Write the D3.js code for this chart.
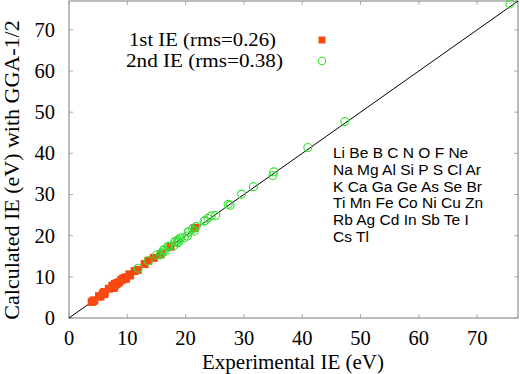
<!DOCTYPE html>
<html><head><meta charset="utf-8">
<script src="https://cdn.jsdelivr.net/npm/d3@7"></script>
<style>body{margin:0;background:#fff}svg{display:block}</style>
</head><body>
<script>
const elements = ["Li","Be","B","C","N","O","F","Ne","Na","Mg","Al","Si","P","S","Cl","Ar","K","Ca","Ga","Ge","As","Se","Br","Ti","Mn","Fe","Co","Ni","Cu","Zn","Rb","Ag","Cd","In","Sb","Te","I","Cs","Tl"];
const ie1Exp  = [5.39,9.32,8.30,11.26,14.53,13.62,17.42,21.56,5.14,7.65,5.99,8.15,10.49,10.36,12.97,15.76,4.34,6.11,6.00,7.90,9.79,9.75,11.81,6.83,7.43,7.90,7.88,7.64,7.73,9.39,4.18,7.58,8.99,5.79,8.61,9.01,10.45,3.89,6.11];
const ie1Calc = [5.2,9.6,8.5,11.4,14.6,13.9,17.3,21.9,5.3,7.5,5.8,8.2,10.5,10.6,13.1,15.5,4.3,6.0,6.2,8.1,9.9,9.5,11.7,7.1,7.8,8.3,8.2,7.9,7.4,9.6,4.1,7.3,9.2,5.9,8.7,9.3,10.3,3.9,6.3];
const ie2Exp  = [75.64,18.21,25.15,24.38,29.60,35.12,34.97,40.96,47.29,15.04,18.83,16.35,19.77,23.34,23.81,27.63,31.63,11.87,20.51,15.93,18.59,21.19,21.8,13.58,15.64,16.19,17.08,18.17,20.29,17.96,27.29,21.48,16.91,18.87,16.53,18.6,19.13,23.16,20.43];
const ie2Calc = [76.3,18.6,24.9,24.8,30.1,35.5,34.6,41.4,47.7,15.3,18.5,16.6,19.5,23.7,24.2,27.4,31.9,12.1,20.9,15.8,18.3,21.6,22.2,13.9,15.3,16.5,17.4,18.6,19.9,17.6,27.6,21.1,17.3,19.2,16.2,18.9,19.5,23.5,20.9];
const tickValues = [0,10,20,30,40,50,60,70];
const legendLabels = ["1st IE (rms=0.26)","2nd IE (rms=0.38)"];
const elementLines = ["Li Be B C N O F Ne","Na Mg Al Si P S Cl Ar","K Ca Ga Ge As Se Br","Ti Mn Fe Co Ni Cu Zn","Rb Ag Cd In Sb Te I","Cs Tl"];
const xLabel = "Experimental IE (eV)";
const yLabel = "Calculated IE (eV) with GGA-1/2";

const W=520,H=374;
const L=69,R=518,T=1,B=318;
const red="#f84a10", green="#33e033";
const serif="'Liberation Serif','Times New Roman',serif";
const sans="'Liberation Sans',Arial,sans-serif";

const svg=d3.select("body").append("svg").attr("width",W).attr("height",H);
const x=d3.scaleLinear().domain([0,77]).range([L,R]);
const y=d3.scaleLinear().domain([0,77]).range([B,T]);

// ticks (mirrored, inward)
const tk=svg.append("g").attr("stroke","#aaa").attr("stroke-width",1);
tickValues.forEach(v=>{
  tk.append("line").attr("x1",x(v)).attr("x2",x(v)).attr("y1",B).attr("y2",B-4);
  tk.append("line").attr("x1",x(v)).attr("x2",x(v)).attr("y1",T).attr("y2",T+4);
  tk.append("line").attr("y1",y(v)).attr("y2",y(v)).attr("x1",L).attr("x2",L+4);
  tk.append("line").attr("y1",y(v)).attr("y2",y(v)).attr("x1",R).attr("x2",R-4);
});
svg.append("rect").attr("x",L).attr("y",T).attr("width",R-L).attr("height",B-T)
  .attr("fill","none").attr("stroke","#999").attr("stroke-width",1.3);

// tick labels
svg.append("g").selectAll("text").data(tickValues).join("text")
  .attr("x",d=>x(d)).attr("y",345).attr("text-anchor","middle")
  .attr("font-family",serif).attr("font-size",20.5).text(d=>d);
svg.append("g").selectAll("text").data(tickValues).join("text")
  .attr("x",55).attr("y",d=>y(d)+7).attr("text-anchor","end")
  .attr("font-family",serif).attr("font-size",20.5).text(d=>d);

// axis labels
svg.append("text").attr("x",293).attr("y",369).attr("text-anchor","middle")
  .attr("font-family",serif).attr("font-size",21).text(xLabel);
svg.append("text").attr("transform","translate(19,170) rotate(-90)").attr("text-anchor","middle")
  .attr("font-family",serif).attr("font-size",22).text(yLabel);

// diagonal
svg.append("line").attr("x1",x(0)).attr("y1",y(0)).attr("x2",x(77)).attr("y2",y(77))
  .attr("stroke","#000").attr("stroke-width",1);

// series
const d1=ie1Exp.map((v,i)=>[v,ie1Calc[i]]);
const d2=ie2Exp.map((v,i)=>[v,ie2Calc[i]]);
svg.append("g").selectAll("rect").data(d1).join("rect")
  .attr("x",d=>x(d[0])-4).attr("y",d=>y(d[1])-4).attr("width",8).attr("height",8)
  .attr("fill",red);
svg.append("g").selectAll("circle").data(d2).join("circle")
  .attr("cx",d=>x(d[0])).attr("cy",d=>y(d[1])).attr("r",4)
  .attr("fill","none").attr("stroke",green).attr("stroke-width",1.1);

// legend
const lg=svg.append("g");
lg.selectAll("text").data(legendLabels).join("text")
  .attr("x",(d,i)=>i?126:129).attr("y",(d,i)=>46+i*21)
  .attr("textLength",(d,i)=>i?157:147).attr("lengthAdjust","spacingAndGlyphs")
  .attr("font-family",serif).attr("font-size",19).text(d=>d);
lg.append("rect").attr("x",322-3.5).attr("y",40-3.5).attr("width",7).attr("height",7).attr("fill",red);
lg.append("circle").attr("cx",322).attr("cy",61).attr("r",3.7).attr("fill","none").attr("stroke",green).attr("stroke-width",1.1);

// element list
svg.append("g").selectAll("text").data(elementLines).join("text")
  .attr("x",333).attr("y",(d,i)=>158+i*16.8)
  .attr("font-family",sans).attr("font-size",15.5).text(d=>d);
</script>
</body></html>
